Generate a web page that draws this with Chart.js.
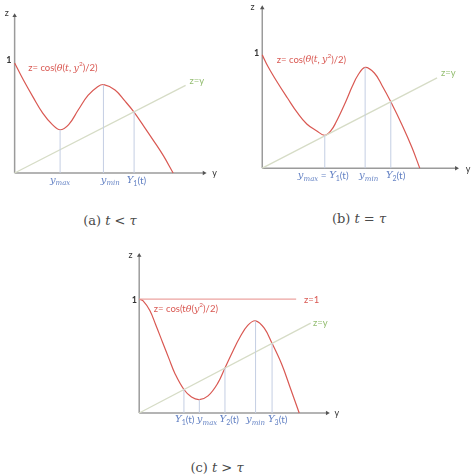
<!DOCTYPE html>
<html>
<head>
<meta charset="utf-8">
<script src="https://cdn.jsdelivr.net/npm/chart.js@4/dist/chart.umd.min.js"></script>
<style>
  body { margin: 0; background: #fff; width: 474px; height: 474px; position: relative; overflow: hidden; }
  .panel { position: absolute; }
  .cap { position: absolute; font-family: "DejaVu Serif", serif; font-size: 13px; color: #4a4a4a; transform: translate(-50%, -50%); white-space: nowrap; }
  .cap i { font-style: italic; }
</style>
</head>
<body>
<div class="panel" id="pa" style="left:0px;top:0px;width:237px;height:200px"><canvas id="ca"></canvas></div>
<div class="panel" id="pb" style="left:237px;top:0px;width:237px;height:200px"><canvas id="cb"></canvas></div>
<div class="panel" id="pc" style="left:110px;top:240px;width:260px;height:200px"><canvas id="cc"></canvas></div>
<div class="cap" style="left:110px;top:220px">(a) <i>t</i> &lt; <i>τ</i></div>
<div class="cap" style="left:359px;top:218px">(b) <i>t</i> = <i>τ</i></div>
<div class="cap" style="left:217px;top:467px">(c) <i>t</i> &gt; <i>τ</i></div>
<script>
// panel (a) t < tau : curve z = cos(theta(t,y^2)/2), units chosen so the straight line is z = y
const aCurveY = [0, 0.041, 0.086, 0.131, 0.176, 0.212, 0.252, 0.297, 0.342, 0.387, 0.416, 0.468, 0.514, 0.554, 0.604, 0.649, 0.694, 0.739];
const aCurveZ = [1.0, 0.845, 0.690, 0.545, 0.440, 0.393, 0.440, 0.575, 0.705, 0.785, 0.804, 0.755, 0.655, 0.560, 0.420, 0.290, 0.155, 0];
const aMarkY = [0.212, 0.414, 0.557];
const aMarkZ = [0.393, 0.804, 0.557];
const aTickY = [0.212, 0.446, 0.568];
const aTickText = [
  [['y', 'mi'], ['max', 'msub']],
  [['y', 'mi'], ['min', 'msub']],
  [['Y', 'mi'], ['1', 'sub'], ['(t)', 'up']],
];

// panel (b) t = tau
const bCurveY = [0, 0.026, 0.070, 0.115, 0.159, 0.203, 0.247, 0.285, 0.313, 0.335, 0.379, 0.410, 0.436, 0.469, 0.511, 0.546, 0.586, 0.639, 0.683, 0.718];
const bCurveZ = [1.0, 0.898, 0.754, 0.619, 0.492, 0.390, 0.331, 0.290, 0.331, 0.400, 0.580, 0.720, 0.820, 0.890, 0.840, 0.730, 0.586, 0.375, 0.180, 0];
const bMarkY = [0.285, 0.469, 0.586];
const bMarkZ = [0.290, 0.890, 0.586];
const bTickY = [0.278, 0.485, 0.608];
const bTickText = [
  [['y', 'mi'], ['max', 'msub'], [' = ', 'up'], ['Y', 'mi'], ['1', 'sub'], ['(t)', 'up']],
  [['y', 'mi'], ['min', 'msub']],
  [['Y', 'mi'], ['2', 'sub'], ['(t)', 'up']],
];

// panel (c) t > tau : curve z = cos(t theta(y^2)/2)
const cCurveY = [0, 0.018, 0.049, 0.076, 0.107, 0.138, 0.165, 0.206, 0.241, 0.277, 0.317, 0.362, 0.395, 0.433, 0.464, 0.500, 0.536, 0.576, 0.612, 0.656, 0.696, 0.737];
const cCurveZ = [1.0, 0.985, 0.900, 0.775, 0.624, 0.473, 0.345, 0.206, 0.140, 0.118, 0.150, 0.262, 0.395, 0.550, 0.665, 0.770, 0.810, 0.745, 0.612, 0.430, 0.220, 0];
const cMarkY = [0.206, 0.277, 0.395, 0.536, 0.612];
const cMarkZ = [0.206, 0.118, 0.395, 0.810, 0.612];
const cTickY = [0.210, 0.3125, 0.415, 0.536, 0.638];
const cTickText = [
  [['Y', 'mi'], ['1', 'sub'], ['(t)', 'up']],
  [['y', 'mi'], ['max', 'msub']],
  [['Y', 'mi'], ['2', 'sub'], ['(t)', 'up']],
  [['y', 'mi'], ['min', 'msub']],
  [['Y', 'mi'], ['3', 'sub'], ['(t)', 'up']],
];

const RED = '#d95852';
const RED_LIGHT = '#eca3a0';
const GREEN_LINE = '#d6dcc6';
const GREEN_TEXT = '#93bd70';
const BLUE_LINE = '#c4cee3';
const BLUE_TEXT = '#6482c4';
const AXIS = '#9b9b9b';
const DARK = '#333';

const SERIF = '"DejaVu Serif", serif';
const SANS = 'Lato, "Open Sans", sans-serif';
const styles = {
  mi:   { font: 'italic 10px ' + SERIF, dy: 0 },
  msub: { font: 'italic 7px ' + SERIF, dy: 3 },
  sub:  { font: '7px ' + SANS, dy: 3 },
  up:   { font: '10px ' + SANS, dy: 0 },
  n:    { font: '9.5px ' + SANS, dy: 0 },
  ci:   { font: 'italic 9.5px ' + SERIF, dy: 0 },
  sup:  { font: '6.5px ' + SANS, dy: -4 },
  ax:   { font: '9px ' + SANS, dy: 0 },
  one:  { font: 'bold 9px ' + SANS, dy: 0 },
};

function drawRich(ctx, px, py, parts, align, color) {
  let w = 0;
  parts.forEach(p => { ctx.font = styles[p[1]].font; w += ctx.measureText(p[0]).width; });
  let x = align === 'center' ? px - w / 2 : (align === 'right' ? px - w : px);
  ctx.fillStyle = color;
  ctx.textBaseline = 'middle';
  ctx.textAlign = 'left';
  parts.forEach(p => {
    const s = styles[p[1]];
    ctx.font = s.font;
    ctx.fillText(p[0], x, py + s.dy);
    x += ctx.measureText(p[0]).width;
  });
}

const textPlugin = {
  id: 'texts',
  afterDatasetsDraw(chart) {
    const ctx = chart.ctx;
    const xs = chart.scales.x, ys = chart.scales.y;
    ctx.save();
    chart.options.plugins.texts.items.forEach(t => {
      drawRich(ctx, xs.getPixelForValue(t.x), ys.getPixelForValue(t.z), t.parts, t.align || 'center', t.color);
    });
    ctx.restore();
  }
};

function pts(xs, zs) { return xs.map((x, i) => ({ x: x, y: zs[i] })); }

function vlines(xs, zs) {
  const d = [];
  xs.forEach((x, i) => { d.push({ x: x, y: 0 }, { x: x, y: zs[i] }, { x: x, y: null }); });
  return d;
}

function makePanel(id, p) {
  // rect of the canvas and where the origin sits inside it, in page pixels
  const xmin = (p.rect.l - p.ox) / p.xu, xmax = (p.rect.l + p.rect.w - p.ox) / p.xu;
  const zmax = (p.oy - p.rect.t) / p.zu, zmin = (p.oy - p.rect.t - p.rect.h) / p.zu;

  const datasets = [
    { data: vlines(p.markY, p.markZ), borderColor: BLUE_LINE, borderWidth: 1, pointRadius: 0, spanGaps: false, tension: 0 },
    { data: [{ x: 0, y: 0 }, { x: p.lineEnd, y: p.lineEnd }], borderColor: GREEN_LINE, borderWidth: 1.3, pointRadius: 0 },
  ];
  if (p.oneEnd) {
    datasets.push({ data: [{ x: 0, y: 1 }, { x: p.oneEnd, y: 1 }], borderColor: RED_LIGHT, borderWidth: 1.2, pointRadius: 0 });
  }
  datasets.push({ data: pts(p.curveY, p.curveZ), borderColor: RED, borderWidth: 1.2, pointRadius: 0, tension: 0.4 });
  datasets.push({ data: [{ x: 0, y: 0 }, { x: p.yEnd, y: 0 }], borderColor: AXIS, borderWidth: 1.5,
    pointRadius: [0, 2.6], pointStyle: 'triangle', rotation: 90, pointBackgroundColor: '#555', pointBorderColor: '#555', pointBorderWidth: 0 });
  datasets.push({ data: [{ x: 0, y: 0 }, { x: 0, y: p.zEnd }], borderColor: AXIS, borderWidth: 1.5,
    pointRadius: [0, 2.6], pointStyle: 'triangle', rotation: 0, pointBackgroundColor: '#555', pointBorderColor: '#555', pointBorderWidth: 0 });

  const items = p.texts.slice();
  p.tickY.forEach((x, i) => items.push({ x: x, z: p.tickZ, parts: p.tickText[i], color: BLUE_TEXT }));

  new Chart(document.getElementById(id), {
    type: 'line',
    data: { datasets: datasets },
    options: {
      responsive: true,
      maintainAspectRatio: false,
      animation: false,
      events: [],
      layout: { padding: 0 },
      plugins: { legend: { display: false }, tooltip: { enabled: false }, texts: { items: items } },
      scales: {
        x: { type: 'linear', display: false, min: xmin, max: xmax },
        y: { type: 'linear', display: false, min: zmin, max: zmax },
      },
    },
    plugins: [textPlugin],
  });
}

makePanel('ca', {
  rect: { l: 0, t: 0, w: 237, h: 200 }, ox: 11, oy: 176, xu: 222, zu: 114.5,
  curveY: aCurveY, curveZ: aCurveZ, markY: aMarkY, markZ: aMarkZ,
  tickY: aTickY, tickText: aTickText, tickZ: -0.07,
  lineEnd: 0.797, yEnd: 0.883, zEnd: 1.43,
  texts: [
    { x: -0.036, z: 1.45, parts: [['z', 'ax']], color: DARK },
    { x: -0.027, z: 1.03, parts: [['1', 'one']], color: DARK },
    { x: 0.932, z: -0.005, parts: [['y', 'ax']], color: DARK },
    { x: 0.063, z: 0.952, align: 'left', color: RED,
      parts: [['z= cos(', 'n'], ['θ', 'ci'], ['(', 'n'], ['t', 'ci'], [', ', 'n'], ['y', 'ci'], ['2', 'sup'], [')/2)', 'n']] },
    { x: 0.815, z: 0.838, align: 'left', parts: [['z=y', 'n']], color: GREEN_TEXT },
  ],
});

makePanel('cb', {
  rect: { l: 237, t: 0, w: 237, h: 200 }, ox: 259, oy: 171, xu: 227, zu: 118,
  curveY: bCurveY, curveZ: bCurveZ, markY: bMarkY, markZ: bMarkZ,
  tickY: bTickY, tickText: bTickText, tickZ: -0.068,
  lineEnd: 0.797, yEnd: 0.885, zEnd: 1.415,
  texts: [
    { x: -0.044, z: 1.42, parts: [['z', 'ax']], color: DARK },
    { x: -0.026, z: 1.02, parts: [['1', 'one']], color: DARK },
    { x: 0.938, z: -0.01, parts: [['y', 'ax']], color: DARK },
    { x: 0.066, z: 0.958, align: 'left', color: RED,
      parts: [['z= cos(', 'n'], ['θ', 'ci'], ['(', 'n'], ['t', 'ci'], [', ', 'n'], ['y', 'ci'], ['2', 'sup'], [')/2)', 'n']] },
    { x: 0.815, z: 0.839, align: 'left', parts: [['z=y', 'n']], color: GREEN_TEXT },
  ],
});

makePanel('cc', {
  rect: { l: 110, t: 240, w: 260, h: 200 }, ox: 136, oy: 416, xu: 224, zu: 118.5,
  curveY: cCurveY, curveZ: cCurveZ, markY: cMarkY, markZ: cMarkZ,
  tickY: cTickY, tickText: cTickText, tickZ: -0.06,
  lineEnd: 0.79, oneEnd: 0.723, yEnd: 0.866, zEnd: 1.384,
  texts: [
    { x: -0.04, z: 1.384, parts: [['z', 'ax']], color: DARK },
    { x: -0.022, z: 0.99, parts: [['1', 'one']], color: DARK },
    { x: 0.91, z: 0, parts: [['y', 'ax']], color: DARK },
    { x: 0.067, z: 0.911, align: 'left', color: RED,
      parts: [['z= cos(t', 'n'], ['θ', 'ci'], ['(', 'n'], ['y', 'ci'], ['2', 'sup'], [')/2)', 'n']] },
    { x: 0.759, z: 0.996, align: 'left', parts: [['z=1', 'n']], color: RED },
    { x: 0.80, z: 0.793, align: 'left', parts: [['z=y', 'n']], color: GREEN_TEXT },
  ],
});
</script>
</body>
</html>
